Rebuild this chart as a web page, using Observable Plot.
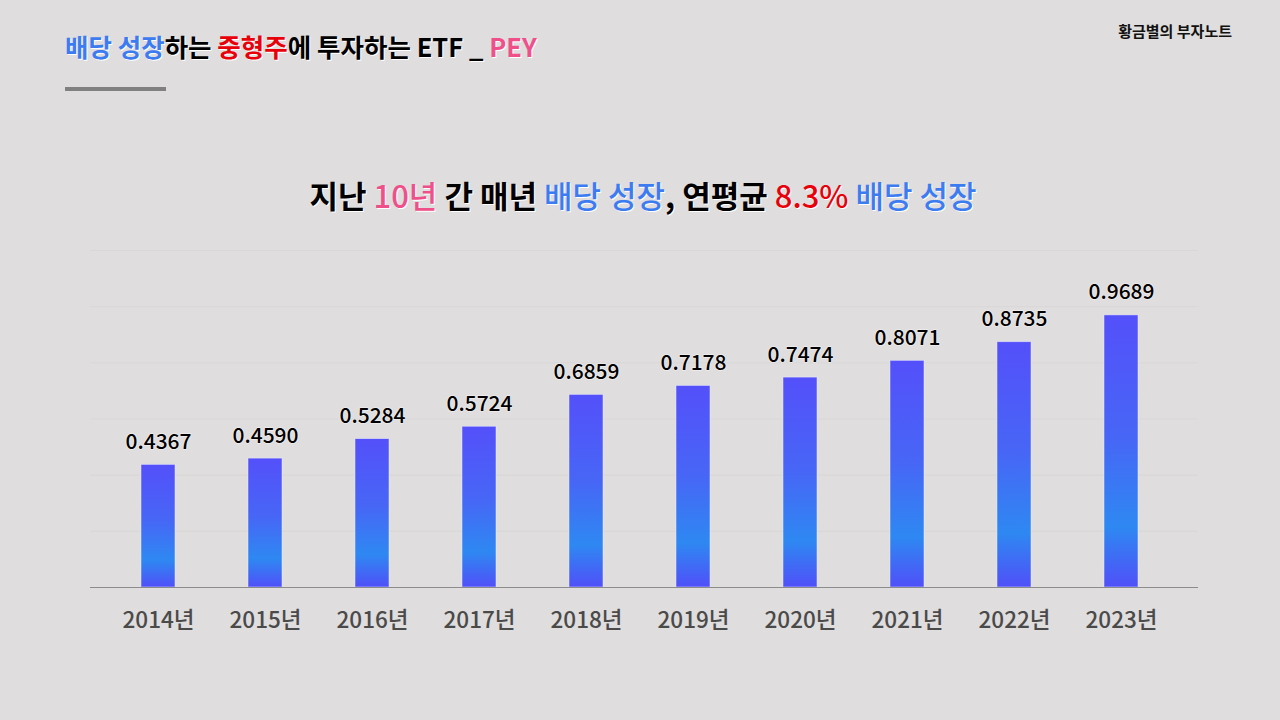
<!DOCTYPE html>
<html>
<head>
<meta charset="utf-8">
<script src="https://cdn.jsdelivr.net/npm/d3@7"></script>
<script src="https://cdn.jsdelivr.net/npm/@observablehq/plot@0.6"></script>
<style>
  html, body { margin: 0; padding: 0; background: #dfdddd; }
  #page { position: relative; width: 1280px; height: 720px; background: #dfdddd; overflow: hidden;
          font-family: "Noto Sans CJK KR", "Noto Sans", sans-serif; }
  .title { position: absolute; left: 65px; top: 27px; font-size: 25.5px; font-weight: 700; color: #000;
           text-shadow: 1px 1px 0 #fff; white-space: nowrap; letter-spacing: 0px; }
  .rule { position: absolute; left: 65px; top: 87px; width: 101px; height: 4px; background: #808080; }
  .brand { position: absolute; right: 48px; top: 20px; font-size: 15px; font-weight: 700; color: #111; }
  .subtitle { position: absolute; left: 0; width: 1286px; top: 172px; text-align: center; font-size: 31px;
              font-weight: 700; color: #000; text-shadow: 1px 1px 0 #fff; white-space: nowrap; letter-spacing: 0px; }
  .blue { color: #3d7cf0; }
  .red { color: #e8000b; }
  .pink { color: #f0508a; }
  #chart { position: absolute; left: 0; top: 0; }
</style>
</head>
<body>
<div id="page">
  <div id="chart"></div>
  <div class="title"><span class="blue">배당 성장</span>하는 <span class="red">중형주</span>에 투자하는 ETF _ <span class="pink">PEY</span></div>
  <div class="rule"></div>
  <div class="brand">황금별의 부자노트</div>
  <div class="subtitle">지난 <span class="pink" style="font-weight:500">10년</span> 간 매년 <span class="blue" style="font-weight:500">배당 성장</span>, 연평균 <span class="red" style="font-weight:500">8.3%</span> <span class="blue" style="font-weight:500">배당 성장</span></div>
</div>
<script>
const years = ["2014년","2015년","2016년","2017년","2018년","2019년","2020년","2021년","2022년","2023년"];
const dividends = [0.4367, 0.4590, 0.5284, 0.5724, 0.6859, 0.7178, 0.7474, 0.8071, 0.8735, 0.9689];
const labels = ["0.4367","0.4590","0.5284","0.5724","0.6859","0.7178","0.7474","0.8071","0.8735","0.9689"];
const gridTicks = [0.2, 0.4, 0.6, 0.8, 1.0, 1.2];

const data = years.map((y, i) => ({year: y, value: dividends[i], label: labels[i]}));

const defs = () => {
  const ns = "http://www.w3.org/2000/svg";
  const d = document.createElementNS(ns, "defs");
  const g = document.createElementNS(ns, "linearGradient");
  g.setAttribute("id", "barGrad");
  g.setAttribute("x1", "0"); g.setAttribute("y1", "0");
  g.setAttribute("x2", "0"); g.setAttribute("y2", "1");
  [["0%", "#5450fa"], ["45%", "#4766f6"], ["78%", "#2e88f2"], ["100%", "#5050f8"]].forEach(([o, c]) => {
    const s = document.createElementNS(ns, "stop");
    s.setAttribute("offset", o); s.setAttribute("stop-color", c);
    g.appendChild(s);
  });
  d.appendChild(g);
  return d;
};

const chart = Plot.plot({
  width: 1280,
  height: 720,
  marginLeft: 90,
  marginRight: 82,
  marginTop: 250,
  marginBottom: 133,
  style: {background: "transparent", fontFamily: "'Noto Sans CJK KR', 'Noto Sans', sans-serif"},
  x: {domain: years, range: [104, 1175], paddingInner: 0.68, paddingOuter: 0.34, label: null},
  y: {domain: [0, 1.2], axis: null},
  marks: [
    defs,
    Plot.ruleY(gridTicks, {stroke: "#d9d7d7", strokeWidth: 1}),
    Plot.barY(data, {x: "year", y: "value", fill: "url(#barGrad)", stroke: "#f2f2ff", strokeWidth: 0.8, strokeOpacity: 0.6}),
    Plot.ruleY([0], {stroke: "#8c8c8c", strokeWidth: 1.2}),
    Plot.text(data, {x: "year", y: "value", text: "label", dy: -16, lineAnchor: "bottom",
      fontSize: 21, fill: "#000", fontWeight: 500, stroke: "#ffffff", strokeWidth: 1.5, strokeOpacity: 0.5, paintOrder: "stroke"}),
    Plot.axisX({tickSize: 0, tickPadding: 25, fontSize: 22.5, fill: "#4a4a4a", fontWeight: 500, label: null})
  ]
});
document.getElementById("chart").appendChild(chart);
</script>
</body>
</html>
